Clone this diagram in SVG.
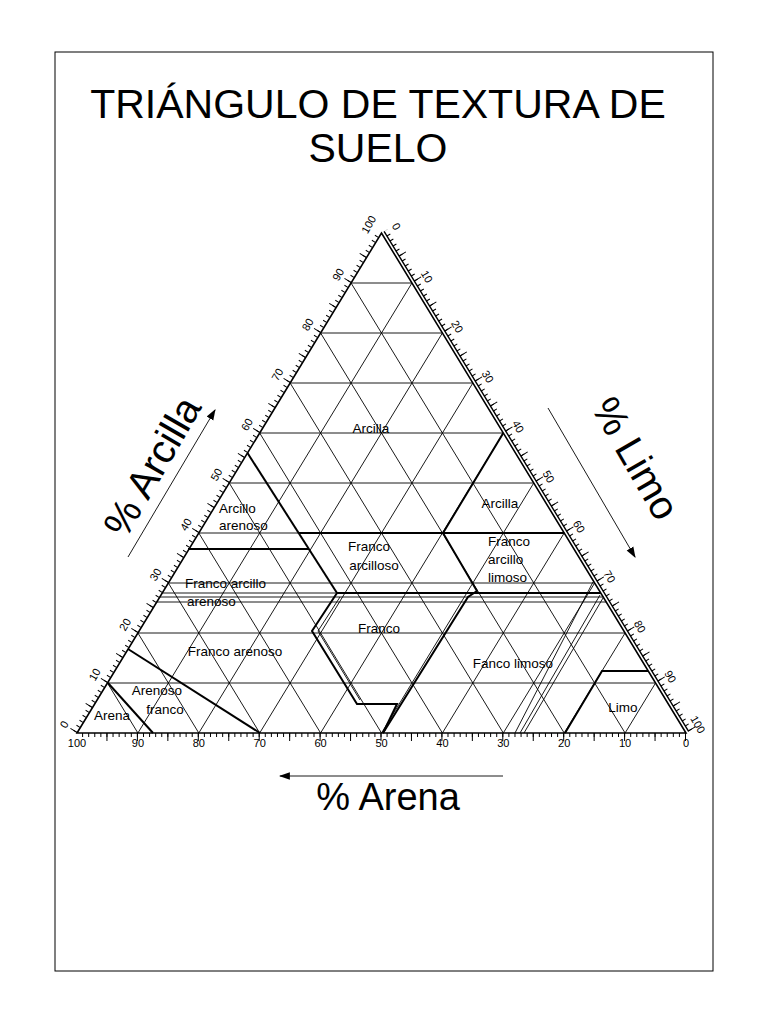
<svg xmlns="http://www.w3.org/2000/svg" width="768" height="1024" viewBox="0 0 768 1024">
<style>
text{font-family:"Liberation Sans",Arial,sans-serif;fill:#000}
.g line,.g{stroke:#000;stroke-width:0.9;fill:none}
.b{stroke:#000;stroke-width:2;fill:none}
.t{stroke:#000;stroke-width:0.9;fill:none}
.n{font-size:11px;text-anchor:middle;dominant-baseline:middle}
.l{font-size:13.5px}
</style>
<defs><marker id="ah" viewBox="0 0 10 10" refX="9" refY="5" markerWidth="11" markerHeight="11" orient="auto" markerUnits="userSpaceOnUse"><path d="M0,1.5 L10,5 L0,8.5 Z" fill="#000"/></marker></defs>
<rect width="768" height="1024" fill="#fff"/>
<rect x="55" y="52" width="658" height="919" fill="none" stroke="#000" stroke-width="1"/>
<g id="title"><text x="378" y="118" font-size="41" text-anchor="middle">TRIÁNGULO DE TEXTURA DE</text><text x="378" y="162" font-size="41" text-anchor="middle">SUELO</text></g>
<g id="grid" class="g">
<line x1="107.45" y1="683" x2="655.55" y2="683"/><line x1="137.9" y1="633" x2="625.1" y2="633"/><line x1="168.35" y1="583" x2="594.65" y2="583"/><line x1="198.8" y1="533" x2="564.2" y2="533"/><line x1="229.25" y1="483" x2="533.75" y2="483"/><line x1="259.7" y1="433" x2="503.3" y2="433"/><line x1="290.15" y1="383" x2="472.85" y2="383"/><line x1="320.6" y1="333" x2="442.4" y2="333"/><line x1="351.05" y1="283" x2="411.95" y2="283"/>
<line x1="625.1" y1="733" x2="351.05" y2="283"/><line x1="564.2" y1="733" x2="320.6" y2="333"/><line x1="503.3" y1="733" x2="290.15" y2="383"/><line x1="442.4" y1="733" x2="259.7" y2="433"/><line x1="381.5" y1="733" x2="229.25" y2="483"/><line x1="320.6" y1="733" x2="198.8" y2="533"/><line x1="259.7" y1="733" x2="168.35" y2="583"/><line x1="198.8" y1="733" x2="137.9" y2="633"/><line x1="137.9" y1="733" x2="107.45" y2="683"/>
<line x1="137.9" y1="733" x2="411.95" y2="283"/><line x1="198.8" y1="733" x2="442.4" y2="333"/><line x1="259.7" y1="733" x2="472.85" y2="383"/><line x1="320.6" y1="733" x2="503.3" y2="433"/><line x1="381.5" y1="733" x2="533.75" y2="483"/><line x1="442.4" y1="733" x2="564.2" y2="533"/><line x1="503.3" y1="733" x2="594.65" y2="583"/><line x1="564.2" y1="733" x2="625.1" y2="633"/><line x1="625.1" y1="733" x2="655.55" y2="683"/>
</g>
<g id="frame">
<path d="M77,733 L686,733 L381.5,233 Z" fill="none" stroke="#000" stroke-width="1.6"/>
<line x1="688.6" y1="731.4" x2="384.1" y2="231.4" stroke="#000" stroke-width="1.4"/>
<line x1="686" y1="735" x2="77" y2="735" stroke="#000" stroke-width="4" stroke-dasharray="1 5.09"/>
<line x1="686" y1="737" x2="77" y2="737" stroke="#000" stroke-width="8" stroke-dasharray="1 29.45"/>
<line x1="74.9" y1="731.7" x2="379.4" y2="231.7" stroke="#000" stroke-width="4" stroke-dasharray="1 4.854"/>
<line x1="73.6" y1="730.9" x2="378.1" y2="230.9" stroke="#000" stroke-width="8" stroke-dasharray="1 28.27"/>
<line x1="690.3" y1="730.4" x2="385.8" y2="230.4" stroke="#000" stroke-width="4" stroke-dasharray="1 4.854"/>
<line x1="692" y1="729.4" x2="387.5" y2="229.4" stroke="#000" stroke-width="8" stroke-dasharray="1 28.27"/>
</g>
<g id="boundaries">
<line class="t" x1="162.3" y1="593" x2="337" y2="593"/>
<line class="t" x1="159.8" y1="597" x2="603.2" y2="597"/>
<line class="t" x1="156.8" y1="602" x2="606.2" y2="602"/>
<line class="b" x1="337" y1="593" x2="600.7" y2="593"/>
<line class="b" x1="247.5" y1="453" x2="337" y2="593"/>
<line class="b" x1="298" y1="533" x2="564.2" y2="533"/>
<line class="b" x1="188" y1="549" x2="309" y2="549"/>
<path class="b" d="M337,593 L312,631 L357,704 L397,704 L383,733"/>
<path class="t" d="M340,597 L318,631 L360,700"/>
<line class="b" x1="128" y1="649" x2="260" y2="733"/>
<line class="b" x1="108" y1="683" x2="153" y2="733"/>
<path class="b" d="M503.3,433 L443,533 L477,591 L468,597 L383,733"/>
<path class="b" d="M565,733 L602,671 L648,671"/>
<line class="t" x1="515" y1="733" x2="593" y2="582"/>
<line class="t" x1="520" y1="733" x2="600" y2="595"/>
<line class="t" x1="524" y1="733" x2="603" y2="598"/>
</g>
<g id="ticklabels" class="n">
<text x="77" y="744">100</text><text x="137.9" y="744">90</text><text x="198.8" y="744">80</text><text x="259.7" y="744">70</text><text x="320.6" y="744">60</text><text x="381.5" y="744">50</text><text x="442.4" y="744">40</text><text x="503.3" y="744">30</text><text x="564.2" y="744">20</text><text x="625.1" y="744">10</text><text x="686" y="744">0</text>
<text transform="translate(65,725) rotate(-60)">0</text><text transform="translate(95.5,675) rotate(-60)">10</text><text transform="translate(125.9,625) rotate(-60)">20</text><text transform="translate(156.4,575) rotate(-60)">30</text><text transform="translate(186.8,525) rotate(-60)">40</text><text transform="translate(217.3,475) rotate(-60)">50</text><text transform="translate(247.7,425) rotate(-60)">60</text><text transform="translate(278.2,375) rotate(-60)">70</text><text transform="translate(308.6,325) rotate(-60)">80</text><text transform="translate(339,275) rotate(-60)">90</text><text transform="translate(369.5,225) rotate(-60)">100</text>
<text transform="translate(395.5,227) rotate(60)">0</text><text transform="translate(426,277) rotate(60)">10</text><text transform="translate(456.4,327) rotate(60)">20</text><text transform="translate(486.9,377) rotate(60)">30</text><text transform="translate(517.3,427) rotate(60)">40</text><text transform="translate(547.8,477) rotate(60)">50</text><text transform="translate(578.2,527) rotate(60)">60</text><text transform="translate(608.7,577) rotate(60)">70</text><text transform="translate(639.1,627) rotate(60)">80</text><text transform="translate(669.6,677) rotate(60)">90</text><text transform="translate(697,725) rotate(60)">100</text>
</g>
<g id="labels" class="l">
<text x="371" y="433" text-anchor="middle">Arcilla</text>
<text x="219" y="513">Arcillo</text><text x="219" y="530">arenoso</text>
<text x="369" y="551" text-anchor="middle">Franco</text><text x="374" y="570" text-anchor="middle">arcilloso</text>
<text x="500" y="508" text-anchor="middle">Arcilla</text>
<text x="488" y="546">Franco</text><text x="488" y="564">arcillo</text><text x="488" y="582">limoso</text>
<text x="185" y="588">Franco arcillo</text><text x="187" y="606">arenoso</text>
<text x="379" y="633" text-anchor="middle">Franco</text>
<text x="235" y="656" text-anchor="middle">Franco arenoso</text>
<text x="513" y="668" text-anchor="middle">Fanco limoso</text>
<text x="157" y="695" text-anchor="middle">Arenoso</text><text x="165" y="714" text-anchor="middle">franco</text>
<text x="112" y="720" text-anchor="middle">Arena</text>
<text x="623" y="712" text-anchor="middle">Limo</text>
</g>
<g id="axes">
<text transform="translate(155,468) rotate(-60)" font-size="40" text-anchor="middle" dominant-baseline="middle">% Arcilla</text>
<line x1="128" y1="557" x2="215" y2="410" stroke="#000" stroke-width="0.9" marker-end="url(#ah)"/>
<text transform="translate(633,460) rotate(60)" font-size="40" text-anchor="middle" dominant-baseline="middle">% Limo</text>
<line x1="548" y1="408" x2="635" y2="557" stroke="#000" stroke-width="0.9" marker-end="url(#ah)"/>
<text x="388" y="810" font-size="38" text-anchor="middle">% Arena</text>
<line x1="503" y1="776" x2="280" y2="776" stroke="#000" stroke-width="0.9" marker-end="url(#ah)"/>
</g>
</svg>
